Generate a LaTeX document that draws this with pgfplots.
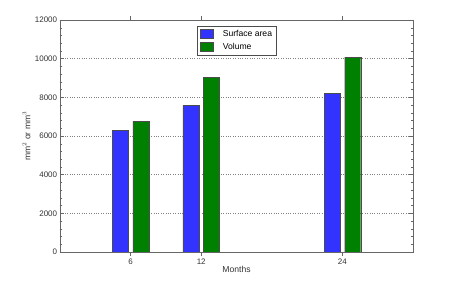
\documentclass[border=0pt]{standalone}
\usepackage{pgfplots}
\pgfplotsset{compat=1.18}
\usepackage{fontspec}
\setmainfont{Liberation Sans}
\definecolor{barblue}{RGB}{51,51,255}
\definecolor{bargreen}{RGB}{0,128,0}
\begin{document}
\fontsize{8}{9.6}\selectfont
\begin{tikzpicture}[x=1pt,y=1pt]
\useasboundingbox (0,0) rectangle (450,281);
\begin{axis}[
  at={(60pt,29pt)}, anchor=south west,
  scale only axis, width=353pt, height=232pt,
  xmin=0, xmax=30, ymin=0, ymax=12000,
  xtick={6,12,24},
  ytick distance=2000,
  minor y tick num=4,
  tick pos=both, tick align=inside,
  major tick length=4pt, minor tick length=2pt,
  axis line style={black!60},
  every tick/.style={black!60},
  ymajorgrids,
  grid style={dotted, black!50},
  /pgf/number format/assume math mode=true,
  scaled y ticks=false,
  yticklabel style={/pgf/number format/1000 sep={}},
  tick label style={font=\fontsize{8}{9.6}\selectfont, black!80},
  label style={font=\fontsize{8.6}{10}\selectfont, black!80},
  xlabel={Months},
  ylabel={mm$^2$ or mm$^3$},
  xlabel style={yshift=4pt},
  ylabel style={yshift=-1pt},
  ybar, bar width=16pt,
  legend style={at={(0.5,0.975)}, anchor=north, font=\fontsize{8.6}{10}\selectfont,
    draw=black!70, inner xsep=3pt, inner ysep=3pt, legend cell align=left,
    /tikz/row sep=3pt,
    /tikz/every odd column/.append style={column sep=8pt},
    nodes={inner xsep=1pt, inner ysep=0.5pt}},
  legend image code/.code={\draw[#1] (0pt,-4.5pt) rectangle (13.5pt,5pt);},
]
\addplot[draw=black!70, fill=barblue, bar shift=-10.3pt] coordinates {(6,6310) (12,7580) (24,8220)};
\addplot[draw=black!70, fill=bargreen, bar shift=10.3pt] coordinates {(6,6770) (12,9020) (24,10080)};
\legend{Surface area, Volume}
\end{axis}
\end{tikzpicture}
\end{document}
